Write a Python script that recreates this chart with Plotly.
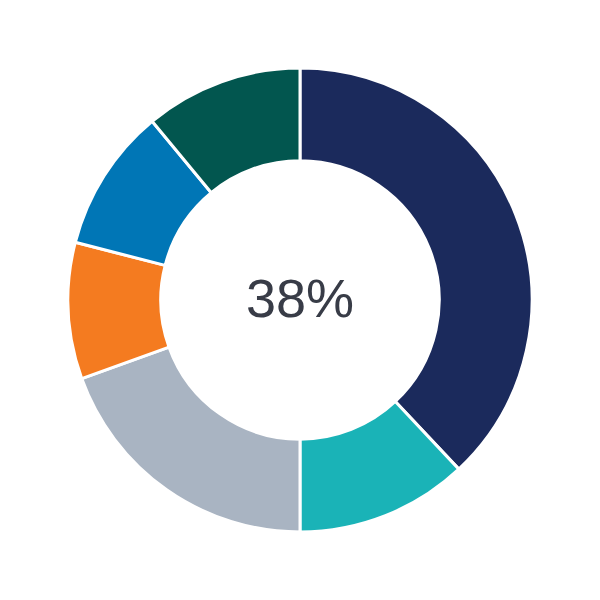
import plotly.graph_objects as go

# slice shares, clockwise from 12 o'clock
labels = ["Navy", "Teal", "Grey", "Orange", "Blue", "Green"]
values = [38, 12, 19.5, 9.5, 10, 11]
colors = ["#1b2a5c", "#1ab3b7", "#a9b4c2", "#f47b20", "#0076b6", "#02564f"]
center_text = "38%"

fig = go.Figure(
    go.Pie(
        labels=labels,
        values=values,
        hole=0.6,
        sort=False,
        direction="clockwise",
        rotation=0,
        textinfo="none",
        hoverinfo="label+percent",
        marker=dict(colors=colors, line=dict(color="white", width=3)),
    )
)

# page body adds an 8px offset, so the margins are skewed to centre at 300,300
fig.update_layout(
    width=600,
    height=600,
    margin=dict(l=60, r=76, t=60, b=76),
    showlegend=False,
    paper_bgcolor="white",
    annotations=[
        dict(
            text=center_text,
            x=0.5,
            y=0.505,
            xref="paper",
            yref="paper",
            showarrow=False,
            font=dict(family="Liberation Sans, Arial", size=54, color="#383c47"),
        )
    ],
)

fig.write_html("out.html")
